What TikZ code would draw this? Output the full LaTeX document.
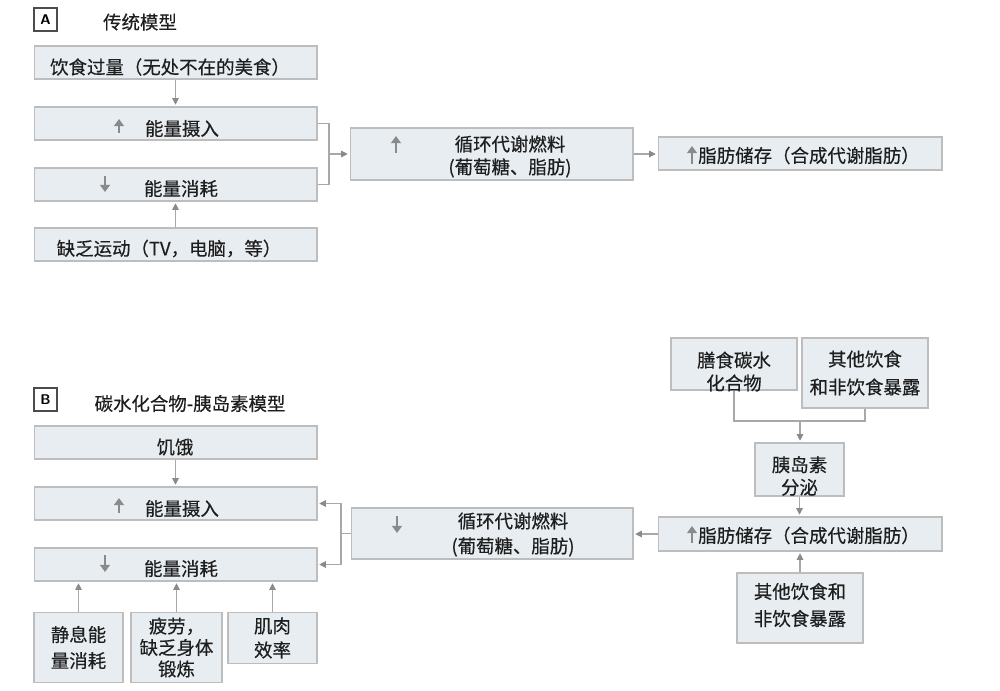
\documentclass[tikz,border=0pt]{standalone}
\usepackage{fontspec}
\setmainfont{Noto Sans CJK SC}[FakeBold=0.4]
\usetikzlibrary{arrows.meta}
\definecolor{boxfill}{HTML}{E7EDF1}
\definecolor{boxline}{HTML}{BDBDBD}
\definecolor{linkc}{HTML}{A8A8A8}
\definecolor{tipc}{HTML}{8A8A8A}
\definecolor{textc}{HTML}{1E1E1E}

\begin{document}
\begin{tikzpicture}[x=0.02cm, y=-0.02cm,
		box/.style={draw=boxline, fill=boxfill, line width=0.6pt, inner sep=0pt},
		tag/.style={draw=black!70, fill=white, line width=0.6pt, inner sep=0pt, minimum size=0.46cm, font=\sffamily\bfseries\fontsize{8}{8}\selectfont},
		txt/.style={text=textc, inner sep=0pt, align=center, font=\fontsize{10.5}{13}\selectfont},
		link/.style={draw=linkc, line width=0.6pt, -{Triangle[length=3.8pt, width=3.8pt, color=tipc]}, shorten >=1pt},
		wire/.style={draw=linkc, line width=0.6pt},
		dirarrow/.style={draw=tipc, line width=1.6pt, -{Triangle[length=4pt, width=5.5pt]}}]
			%%%%% START %%%%%
			\useasboundingbox (0,0) rectangle (1000,690);
			
			%%%%% A %%%%%
			\node[tag] (tagA) at (45.5,19.5) {A};
			\node[txt] (titleA) at (140,22) {传统模型};
			
			\node[box, minimum width=5.66cm, minimum height=0.66cm] (dietA) at (175.5,62.5) {};
			\node[txt] (dietAt) at (170,67) {饮食过量（无处不在的美食）};
			
			\node[box, minimum width=5.66cm, minimum height=0.66cm] (inA) at (175.5,123.5) {};
			\node[txt] (inAt) at (182,128.5) {能量摄入};
			\draw[dirarrow] (119,133) -- (119,119);
			
			\node[box, minimum width=5.66cm, minimum height=0.66cm] (outA) at (175.5,184.5) {};
			\node[txt] (outAt) at (181,188.5) {能量消耗};
			\draw[dirarrow] (105,176) -- (105,192);
			
			\node[box, minimum width=5.66cm, minimum height=0.66cm] (lackA) at (175.5,244.5) {};
			\node[txt] (lackAt) at (169,248.5) {缺乏运动（TV，电脑，等）};
			
			\node[box, minimum width=5.66cm, minimum height=1.04cm] (fuelA) at (491.5,154) {};
			\node[txt] (fuelAt) at (510,156.5) {循环代谢燃料\\(葡萄糖、脂肪)};
			\draw[dirarrow] (396,153) -- (396,136);
			
			\node[box, minimum width=5.68cm, minimum height=0.66cm] (fatA) at (800,153.5) {};
			\node[txt] (fatAt) at (809,155.5) {脂肪储存（合成代谢脂肪）};
			\draw[dirarrow] (692,164) -- (692,146);
			
			\coordinate (jA) at (329,154);
			\draw[link] (dietA.south) -- (inA.north);
			\draw[link] (lackA.north) -- (outA.south);
			\draw[wire] (inA.east) -| (jA) |- (outA.east);
			\draw[link] (jA) -- (fuelA.west);
			\draw[link] (fuelA.east) -- (fuelA.east -| fatA.west);
			
			%%%%% B %%%%%
			\node[tag] (tagB) at (45.5,399.5) {B};
			\node[txt] (titleB) at (190,403.5) {碳水化合物-胰岛素模型};
			
			\node[box, minimum width=5.66cm, minimum height=0.66cm] (hungerB) at (175.5,442.5) {};
			\node[txt] (hungerBt) at (175,447) {饥饿};
			
			\node[box, minimum width=5.66cm, minimum height=0.66cm] (inB) at (175.5,503.5) {};
			\node[txt] (inBt) at (182,508.5) {能量摄入};
			\draw[dirarrow] (119,513) -- (119,498);
			
			\node[box, minimum width=5.66cm, minimum height=0.66cm] (outB) at (175.5,564.5) {};
			\node[txt] (outBt) at (181,568.5) {能量消耗};
			\draw[dirarrow] (105,555) -- (105,572);
			
			\node[box, minimum width=1.78cm, minimum height=1.41cm, txt, font=\fontsize{10.5}{14.8}\selectfont] (restB) at (78.5,647.5) {静息能\\量消耗};
			\node[box, minimum width=1.82cm, minimum height=1.41cm, txt, font=\fontsize{10.5}{12.2}\selectfont] (fatigueB) at (176.5,647.5) {疲劳，\\缺乏身体\\锻炼};
			\node[box, minimum width=1.78cm, minimum height=1.03cm, txt, font=\fontsize{10.5}{13.7}\selectfont] (muscleB) at (272.5,638) {肌肉\\效率};
			
			\node[box, minimum width=5.64cm, minimum height=1.02cm] (fuelB) at (492,533.5) {};
			\node[txt, font=\fontsize{10.5}{14.2}\selectfont] (fuelBt) at (513,534.5) {循环代谢燃料\\(葡萄糖、脂肪)};
			\draw[dirarrow] (397,516) -- (397,533);
			
			\node[box, minimum width=5.68cm, minimum height=0.68cm] (fatB) at (800,534) {};
			\node[txt] (fatBt) at (809,535.5) {脂肪储存（合成代谢脂肪）};
			\draw[dirarrow] (692,543) -- (692,526);
			
			\node[box, minimum width=2.52cm, minimum height=1.04cm] (carbB) at (734,364) {};
			\node[txt] (carbBt) at (734,371.5) {膳食碳水\\化合物};
			\node[box, minimum width=2.52cm, minimum height=1.40cm, txt, font=\fontsize{10.5}{15.9}\selectfont] (otherTopB) at (865,373) {其他饮食\\和非饮食暴露};
			
			\node[box, minimum width=1.78cm, minimum height=1.06cm] (insB) at (799.5,469.5) {};
			\node[txt, font=\fontsize{10.5}{12.8}\selectfont] (insBt) at (799.5,476) {胰岛素\\分泌};
			
			\node[box, minimum width=2.52cm, minimum height=1.40cm] (otherBotB) at (800,608) {};
			\node[txt, font=\fontsize{10.5}{15.4}\selectfont] (otherBotBt) at (800,605) {其他饮食和\\非饮食暴露};
			
			\coordinate (jB) at (341,533.5);
			\coordinate (jC) at (800,421);
			\draw[link] (hungerB.south) -- (inB.north);
			\draw[link] (restB.north) -- (restB.north |- outB.south);
			\draw[link] (fatigueB.north) -- (fatigueB.north |- outB.south);
			\draw[link] (muscleB.north) -- (muscleB.north |- outB.south);
			\draw[link] (fatB.west) -- (fatB.west -| fuelB.east);
			\draw[wire] (fuelB.west) -- (jB);
			\draw[link] (jB) |- (inB.east);
			\draw[link] (jB) |- (outB.east);
			\draw[wire] (carbB.south) |- (jC) -| (otherTopB.south);
			\draw[link] (jC) -- (jC |- insB.north);
			\draw[link] (insB.south) -- (insB.south |- fatB.north);
			\draw[link] (otherBotB.north) -- (otherBotB.north |- fatB.south);
			
			%%%%% END %%%%%
		\end{tikzpicture}
\end{document}
